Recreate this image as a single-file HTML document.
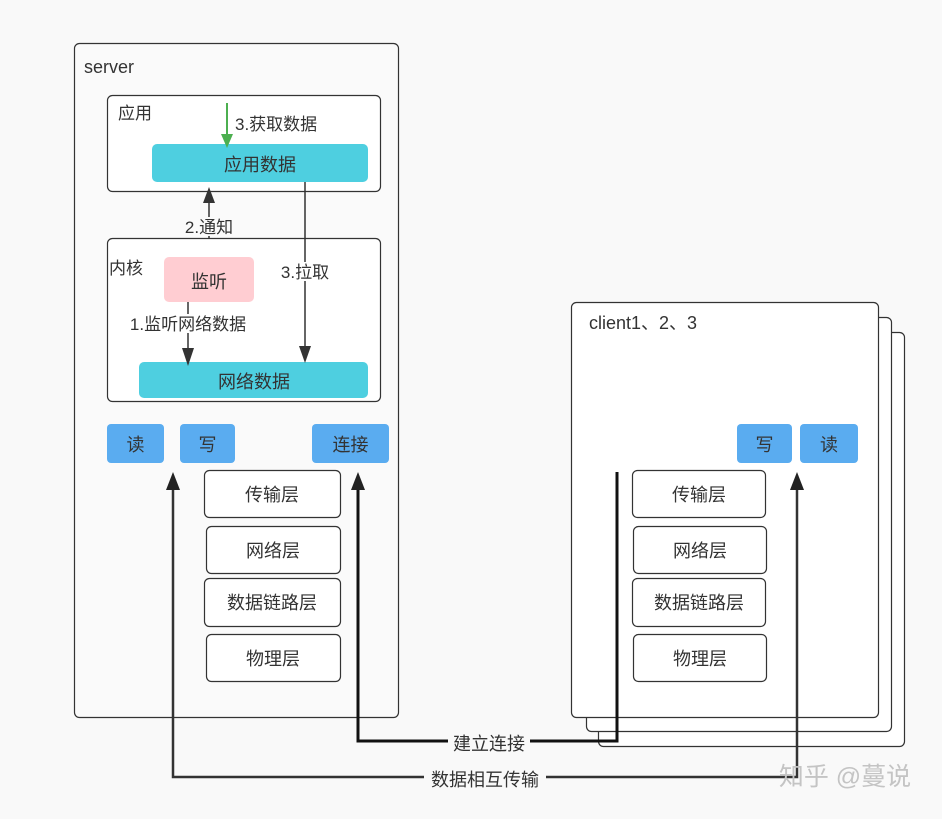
<!DOCTYPE html>
<html><head><meta charset="utf-8"><style>
html,body{margin:0;padding:0;background:#f9f9f9;}
svg text{font-family:"Liberation Sans","Noto Sans CJK SC",sans-serif;fill:#333;}
</style></head><body>
<svg width="942" height="814" viewBox="0 0 942 814" xmlns="http://www.w3.org/2000/svg">
<rect width="942" height="814" fill="#f9f9f9"/>
<!-- server -->
<rect x="74.5" y="43.5" width="324" height="674" rx="5" fill="#fafafa" stroke="#333" stroke-width="1.2"/>
<text x="84" y="73" font-size="18">server</text>
<!-- app box -->
<rect x="107.5" y="95.5" width="273" height="96" rx="5" fill="#fff" stroke="#333" stroke-width="1.2"/>
<text x="118" y="119" font-size="17">应用</text>
<rect x="152" y="144" width="216" height="38" rx="5" fill="#4ecfe0"/>
<text x="260" y="171" font-size="18" text-anchor="middle">应用数据</text>
<line x1="227" y1="103" x2="227" y2="136" stroke="#4caf50" stroke-width="2"/>
<polygon points="221,134 233,134 227,148" fill="#4caf50"/>
<text x="235" y="130" font-size="17">3.获取数据</text>
<!-- kernel box -->
<rect x="107.5" y="238.5" width="273" height="163" rx="5" fill="#fff" stroke="#333" stroke-width="1.2"/>
<text x="109" y="274" font-size="17">内核</text>
<rect x="164" y="257" width="90" height="45" rx="5" fill="#ffcdd2"/>
<text x="209" y="288" font-size="18" text-anchor="middle">监听</text>
<rect x="139" y="362" width="229" height="36" rx="5" fill="#4ecfe0"/>
<text x="254" y="388" font-size="18" text-anchor="middle">网络数据</text>
<!-- 2.通知 -->
<line x1="209" y1="238" x2="209" y2="200" stroke="#333" stroke-width="1.5"/>
<polygon points="203,203 215,203 209,187" fill="#333"/>
<rect x="181" y="217" width="56" height="19" fill="#fafafa"/>
<text x="209" y="233" font-size="17" text-anchor="middle">2.通知</text>
<!-- 3.拉取 -->
<line x1="305" y1="182" x2="305" y2="350" stroke="#333" stroke-width="1.5"/>
<polygon points="299,346 311,346 305,363" fill="#333"/>
<rect x="278" y="262" width="54" height="19" fill="#fff"/>
<text x="305" y="278" font-size="17" text-anchor="middle">3.拉取</text>
<!-- 1 -->
<line x1="188" y1="302" x2="188" y2="352" stroke="#333" stroke-width="1.5"/>
<polygon points="182,348 194,348 188,366" fill="#333"/>
<rect x="124" y="314" width="128" height="19" fill="#fff"/>
<text x="188" y="330" font-size="17" text-anchor="middle">1.监听网络数据</text>
<!-- buttons -->
<rect x="107" y="424" width="57" height="39" rx="4" fill="#5aacf0"/>
<text x="135.5" y="451" font-size="18" text-anchor="middle">读</text>
<rect x="180" y="424" width="55" height="39" rx="4" fill="#5aacf0"/>
<text x="207.5" y="451" font-size="18" text-anchor="middle">写</text>
<rect x="312" y="424" width="77" height="39" rx="4" fill="#5aacf0"/>
<text x="350.5" y="451" font-size="18" text-anchor="middle">连接</text>
<!-- server layers -->
<g fill="#fff" stroke="#333" stroke-width="1.2">
<rect x="204.5" y="470.5" width="136" height="47" rx="5"/>
<rect x="206.5" y="526.5" width="134" height="47" rx="5"/>
<rect x="204.5" y="578.5" width="136" height="48" rx="5"/>
<rect x="206.5" y="634.5" width="134" height="47" rx="5"/>
</g>
<g font-size="18" text-anchor="middle">
<text x="272" y="501">传输层</text>
<text x="273" y="557">网络层</text>
<text x="272" y="609">数据链路层</text>
<text x="273" y="665">物理层</text>
</g>
<!-- clients -->
<g fill="#fff" stroke="#333" stroke-width="1.2">
<rect x="598.5" y="332.5" width="306" height="414" rx="5"/>
<rect x="586.5" y="317.5" width="305" height="414" rx="5"/>
<rect x="571.5" y="302.5" width="307" height="415" rx="5"/>
</g>
<text x="589" y="329" font-size="18">client1、2、3</text>
<rect x="737" y="424" width="55" height="39" rx="4" fill="#5aacf0"/>
<text x="764.5" y="451" font-size="18" text-anchor="middle">写</text>
<rect x="800" y="424" width="58" height="39" rx="4" fill="#5aacf0"/>
<text x="829" y="451" font-size="18" text-anchor="middle">读</text>
<g fill="#fff" stroke="#333" stroke-width="1.2">
<rect x="632.5" y="470.5" width="133" height="47" rx="5"/>
<rect x="633.5" y="526.5" width="133" height="47" rx="5"/>
<rect x="632.5" y="578.5" width="133" height="48" rx="5"/>
<rect x="633.5" y="634.5" width="133" height="47" rx="5"/>
</g>
<g font-size="18" text-anchor="middle">
<text x="699" y="501">传输层</text>
<text x="700" y="557">网络层</text>
<text x="699" y="609">数据链路层</text>
<text x="700" y="665">物理层</text>
</g>
<!-- connect line -->
<polyline points="358,488 358,741 617,741 617,472" fill="none" stroke="#111" stroke-width="3"/>
<polygon points="351,490 365,490 358,472" fill="#222"/>
<rect x="448" y="731" width="82" height="21" fill="#f9f9f9"/>
<text x="489" y="750" font-size="18" text-anchor="middle">建立连接</text>
<!-- data line -->
<polyline points="173,488 173,777 797,777 797,488" fill="none" stroke="#333" stroke-width="2.5"/>
<polygon points="166,490 180,490 173,472" fill="#222"/>
<polygon points="790,490 804,490 797,472" fill="#222"/>
<rect x="424" y="767" width="122" height="21" fill="#f9f9f9"/>
<text x="485" y="786" font-size="18" text-anchor="middle">数据相互传输</text>
<text x="845" y="785" font-size="25" text-anchor="middle" style="fill:#c4c4c4">知乎 @蔓说</text>
</svg>
</body></html>
